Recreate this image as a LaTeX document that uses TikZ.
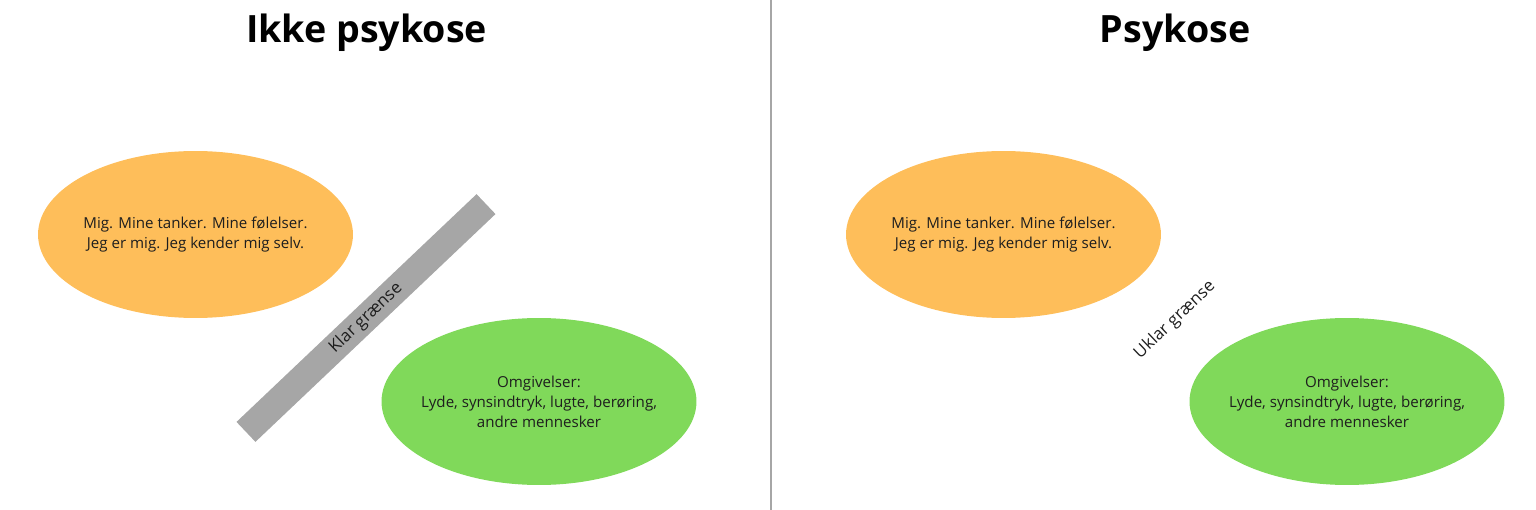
\documentclass[tikz,border=0pt]{standalone}
\usepackage{fontspec}
\setmainfont{Open Sans}
\usetikzlibrary{shapes.geometric}
\definecolor{selforange}{HTML}{FEBE5A}
\definecolor{worldgreen}{HTML}{80D95A}
\definecolor{bargray}{HTML}{A6A6A6}
\definecolor{inkgray}{HTML}{1E1E1E}
\begin{document}
\begin{tikzpicture}[x=0.02cm, y=-0.02cm,
        title/.style={anchor=base, font=\bfseries\fontsize{21.4}{26}\selectfont, text=black},
        blob/.style={ellipse, minimum width=6.3cm, minimum height=3.34cm, inner sep=0pt},
        blobtext/.style={align=center, text=inkgray, font=\fontsize{8.6}{11.3}\selectfont},
        self/.style={blob, fill=selforange},
        world/.style={blob, fill=worldgreen},
        border/.style={rotate=43.5, text=inkgray, font=\fontsize{9.6}{11}\selectfont}]
    \useasboundingbox (0,0) rectangle (1536,510);
    \coordinate (divtop) at (771,0);
    \coordinate (divbot) at (771,510);
    \draw[bargray, line width=0.7pt] (divtop) -- (divbot);
    \foreach \dx/\side in {0/left,808/right} {
        \node[self] (self-\side) at (195.5+\dx,234.5) {};
        \node[blobtext] (selftext-\side) at (self-\side) {Mig. Mine tanker. Mine følelser.\\Jeg er mig. Jeg kender mig selv.};
        \node[world] (world-\side) at (539+\dx,401.5) {};
        \node[blobtext] (worldtext-\side) at (world-\side) {Omgivelser:\\Lyde, synsindtryk, lugte, berøring,\\andre mennesker};
    }
    \node[title] (title-left) at (366.5,43) {Ikke psykose};
    \node[title] (title-right) at (1175,43) {Psykose};
    \node[border, fill=bargray, minimum width=6.62cm, minimum height=0.55cm, inner sep=0pt] (klar) at (366,318) {Klar grænse};
    \node[border] (uklar) at (1175,320) {Uklar grænse};
\end{tikzpicture}
\end{document}
